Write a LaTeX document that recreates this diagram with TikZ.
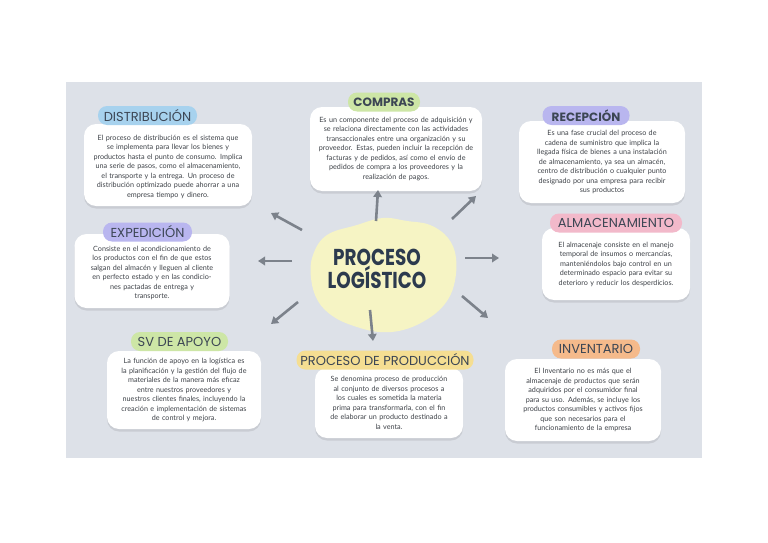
\documentclass[tikz,border=0pt]{standalone}
\usepackage{fontspec}
\setmainfont{Lato}
\newfontfamily\headfont{Poppins}
\usetikzlibrary{arrows.meta,shadows}
\definecolor{panelc}{HTML}{DDE1E8}
\definecolor{blobc}{HTML}{F6F4C4}
\definecolor{titlec}{HTML}{2C3A4E}
\definecolor{headc}{HTML}{3C4654}
\definecolor{bodyc}{HTML}{3E4248}
\definecolor{arrc}{HTML}{7C828B}
\definecolor{cblue}{HTML}{A7D2EE}
\definecolor{cgreen}{HTML}{CDE6A6}
\definecolor{clav}{HTML}{B9B6EF}
\definecolor{cpink}{HTML}{F2B9CA}
\definecolor{cyellow}{HTML}{F5DE92}
\definecolor{corange}{HTML}{F5BA8B}
\tikzset{
  infobox/.style={fill=white, rounded corners=12pt, inner sep=0pt, align=center,
    text=bodyc, font=\fontsize{7.2}{9.5}\selectfont,
    drop shadow={shadow xshift=0pt, shadow yshift=-2.5pt, opacity=0.09, fill=black}},
  pill/.style={rounded corners=9pt, inner sep=0pt, minimum height=19pt, text=headc,
    font=\headfont\fontsize{13}{13}\selectfont},
  arr/.style={draw=arrc, line width=2.6pt, -{Triangle[length=7pt,width=8.5pt]}},
}
\begin{document}
\begin{tikzpicture}[x=1pt,y=-1pt]
\useasboundingbox (0,0) rectangle (768,543);
\fill[panelc] (66,82) rectangle (702,458);

% central blob
\fill[blobc] plot[smooth cycle, tension=0.65] coordinates {
 (327,235) (357,225) (383,218) (407,221) (430,225) (448,238) (456,258)
 (454,285) (444,305) (426,320) (403,330) (380,332) (357,327) (334,317)
 (318,301) (311,278) (313,255)};
\node[text=titlec, align=center, font=\headfont\bfseries\fontsize{23}{20}\selectfont, xscale=0.8, transform shape] (center) at (377,269) {PROCESO\\LOGÍSTICO};

% boxes
\node[infobox, minimum width=168pt, minimum height=82pt, text width=164pt] (dist) at (168,165)
 {\rule{0pt}{9pt}El proceso de distribución es el sistema que\\ se implementa para llevar los bienes y\\ productos hasta el punto de consumo. Implica\\ una serie de pasos, como el almacenamiento,\\ el transporte y la entrega. Un proceso de\\ distribución optimizado puede ahorrar a una\\ empresa tiempo y dinero.};
\node[pill, fill=cblue, minimum width=99pt] (distl) at (147.5,115.5) {DISTRIBUCIÓN};

\node[infobox, minimum width=172pt, minimum height=84pt, text width=168pt] (comp) at (396,149)
 {Es un componente del proceso de adquisición y\\ se relaciona directamente con las actividades\\ transaccionales entre una organización y su\\ proveedor. Estas, pueden incluir la recepción de\\ facturas y de pedidos, así como el envío de\\ pedidos de compra a los proveedores y la\\ realización de pagos.};
\node[pill, fill=cgreen, minimum width=72pt, font=\headfont\bfseries\fontsize{12}{12}\selectfont] (compl) at (384,102) {COMPRAS};

\node[infobox, minimum width=166pt, minimum height=82pt, text width=160pt] (rec) at (602,162)
 {Es una fase crucial del proceso de\\ cadena de suministro que implica la\\ llegada física de bienes a una instalación\\ de almacenamiento, ya sea un almacén,\\ centro de distribución o cualquier punto\\ designado por una empresa para recibir\\ sus productos};
\node[pill, fill=clav, minimum width=87pt, font=\headfont\bfseries\fontsize{12}{12}\selectfont] (recl) at (586,115.5) {RECEPCIÓN};

\node[infobox, minimum width=155pt, minimum height=74pt, text width=151pt] (exp) at (152,271)
 {\rule{0pt}{9pt}Consiste en el acondicionamiento de\\ los productos con el fin de que estos\\ salgan del almacén y lleguen al cliente\\ en perfecto estado y en las condicio-\\ nes pactadas de entrega y\\ transporte.};
\node[pill, fill=clav, minimum width=89pt] (expl) at (147.5,232) {EXPEDICIÓN};

\node[infobox, minimum width=148pt, minimum height=72pt, text width=144pt] (alm) at (616,264)
 {El almacenaje consiste en el manejo\\ temporal de insumos o mercancías,\\ manteniéndolos bajo control en un\\ determinado espacio para evitar su\\ deterioro y reducir los desperdicios.};
\node[pill, fill=cpink, minimum width=132pt] (alml) at (616,223) {ALMACENAMIENTO};

\node[infobox, minimum width=154pt, minimum height=78pt, text width=150pt] (sv) at (184,390)
 {La función de apoyo en la logística es\\ la planificación y la gestión del flujo de\\ materiales de la manera más eficaz\\ entre nuestros proveedores y\\ nuestros clientes finales, incluyendo la\\ creación e implementación de sistemas\\ de control y mejora.};
\node[pill, fill=cgreen, minimum width=97pt] (svl) at (179.5,341.5) {SV DE APOYO};

\node[infobox, minimum width=148pt, minimum height=70pt, text width=144pt] (prod) at (389,403)
 {Se denomina proceso de producción\\ al conjunto de diversos procesos a\\ los cuales es sometida la materia\\ prima para transformarla, con el fin\\ de elaborar un producto destinado a\\ la venta.};
\node[pill, fill=cyellow, minimum width=177pt] (prodl) at (385,360) {PROCESO DE PRODUCCIÓN};

\node[infobox, minimum width=156pt, minimum height=82pt, text width=152pt] (inv) at (583,400)
 {El Inventario no es más que el\\ almacenaje de productos que serán\\ adquiridos por el consumidor final\\ para su uso. Además, se incluye los\\ productos consumibles y activos fijos\\ que son necesarios para el\\ funcionamiento de la empresa};
\node[pill, fill=corange, minimum width=88pt] (invl) at (596,349) {INVENTARIO};

% arrows
\coordinate (aus) at (376,221); \coordinate (aue) at (378,190);
\coordinate (aurs) at (452,219); \coordinate (aure) at (476,196);
\coordinate (ars) at (465,258); \coordinate (are) at (499,258);
\coordinate (adrs) at (462,296); \coordinate (adre) at (488,318);
\coordinate (ads) at (370,310); \coordinate (ade) at (373,341);
\coordinate (adls) at (298,302); \coordinate (adle) at (271,324);
\coordinate (als) at (292,261); \coordinate (ale) at (258,261);
\coordinate (auls) at (302,230); \coordinate (aule) at (271,213);
\draw[arr] (aus) -- (aue);
\draw[arr] (aurs) -- (aure);
\draw[arr] (ars) -- (are);
\draw[arr] (adrs) -- (adre);
\draw[arr] (ads) -- (ade);
\draw[arr] (adls) -- (adle);
\draw[arr] (als) -- (ale);
\draw[arr] (auls) -- (aule);
\end{tikzpicture}
\end{document}
